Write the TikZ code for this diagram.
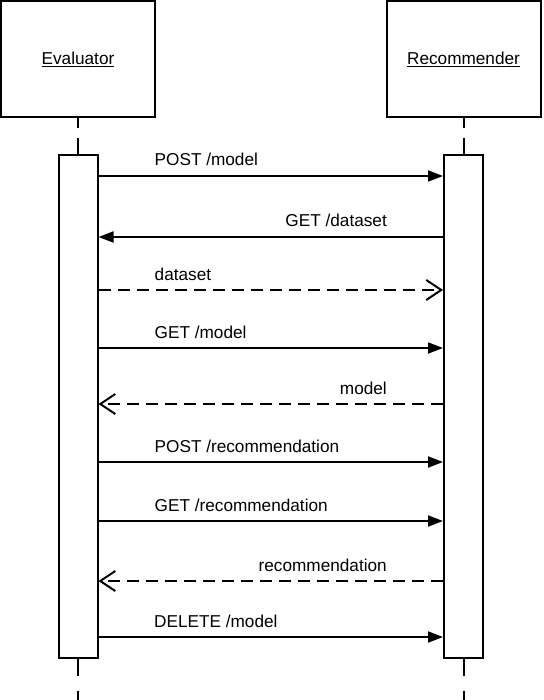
\documentclass[tikz,border=0pt]{standalone}
\usepackage{fontspec}
\setmainfont{Liberation Sans}
\usetikzlibrary{arrows.meta}
\begin{document}
\begin{tikzpicture}[x=1pt,y=-1pt,
  actor/.style={draw,line width=2pt,fill=white,minimum width=154pt,minimum height=116pt,inner sep=0pt,font=\fontsize{17.2}{20}\selectfont},
  actbar/.style={draw,line width=2pt,fill=white,minimum width=39pt,minimum height=503pt,inner sep=0pt},
  life/.style={line width=2pt},
  msg/.style={line width=2pt,-{Triangle[length=15pt,width=11pt]}},
  reply/.style={line width=2pt,dash pattern=on 12pt off 7pt,-{Straight Barb[length=15pt,width=20pt,line width=2pt]}},
  lbl/.style={inner sep=0pt,font=\fontsize{17.2}{20}\selectfont}
]
\useasboundingbox (0,0) rectangle (543,700);
\node[actor] (ev) at (78,59) {\underline{Evaluator}};
\node[actor] (rec) at (463.5,59) {\underline{Recommender}};
\coordinate (evbot) at (78,700);
\coordinate (recbot) at (463.5,700);
\node[actbar] (eva) at (78,406.5) {};
\node[actbar] (reca) at (463.5,406.5) {};
% lifelines
\draw[life,dash pattern=on 10pt off 10pt on 30pt off 10pt] (ev.south) -- (eva.north);
\draw[life,dash pattern=on 10pt off 10pt on 30pt off 10pt] (rec.south) -- (reca.north);
\draw[life,dash pattern=on 17pt off 15pt] (eva.south) -- (evbot);
\draw[life,dash pattern=on 17pt off 15pt] (reca.south) -- (recbot);
% message levels
\coordinate (m1) at (0,176);
\coordinate (m2) at (0,237);
\coordinate (m3) at (0,290);
\coordinate (m4) at (0,348);
\coordinate (m5) at (0,404);
\coordinate (m6) at (0,462);
\coordinate (m7) at (0,521);
\coordinate (m8) at (0,581);
\coordinate (m9) at (0,637);
\draw[msg] (eva.east |- m1) -- (reca.west |- m1);
\draw[msg] (reca.west |- m2) -- (eva.east |- m2);
\draw[reply] (eva.east |- m3) -- (reca.west |- m3);
\draw[msg] (eva.east |- m4) -- (reca.west |- m4);
\draw[reply] (reca.west |- m5) -- (eva.east |- m5);
\draw[msg] (eva.east |- m6) -- (reca.west |- m6);
\draw[msg] (eva.east |- m7) -- (reca.west |- m7);
\draw[reply] (reca.west |- m8) -- (eva.east |- m8);
\draw[msg] (eva.east |- m9) -- (reca.west |- m9);
% labels
\node[lbl,anchor=base west] (l1) at (154.5,166) {POST /model};
\node[lbl,anchor=base east] (l2) at (387,227) {GET /dataset};
\node[lbl,anchor=base west] (l3) at (154.5,280) {dataset};
\node[lbl,anchor=base west] (l4) at (154.5,338) {GET /model};
\node[lbl,anchor=base east] (l5) at (387,394) {model};
\node[lbl,anchor=base west] (l6) at (154.5,452) {POST /recommendation};
\node[lbl,anchor=base west] (l7) at (154.5,511) {GET /recommendation};
\node[lbl,anchor=base east] (l8) at (387,571) {recommendation};
\node[lbl,anchor=base west] (l9) at (154,627) {DELETE /model};
\end{tikzpicture}
\end{document}
